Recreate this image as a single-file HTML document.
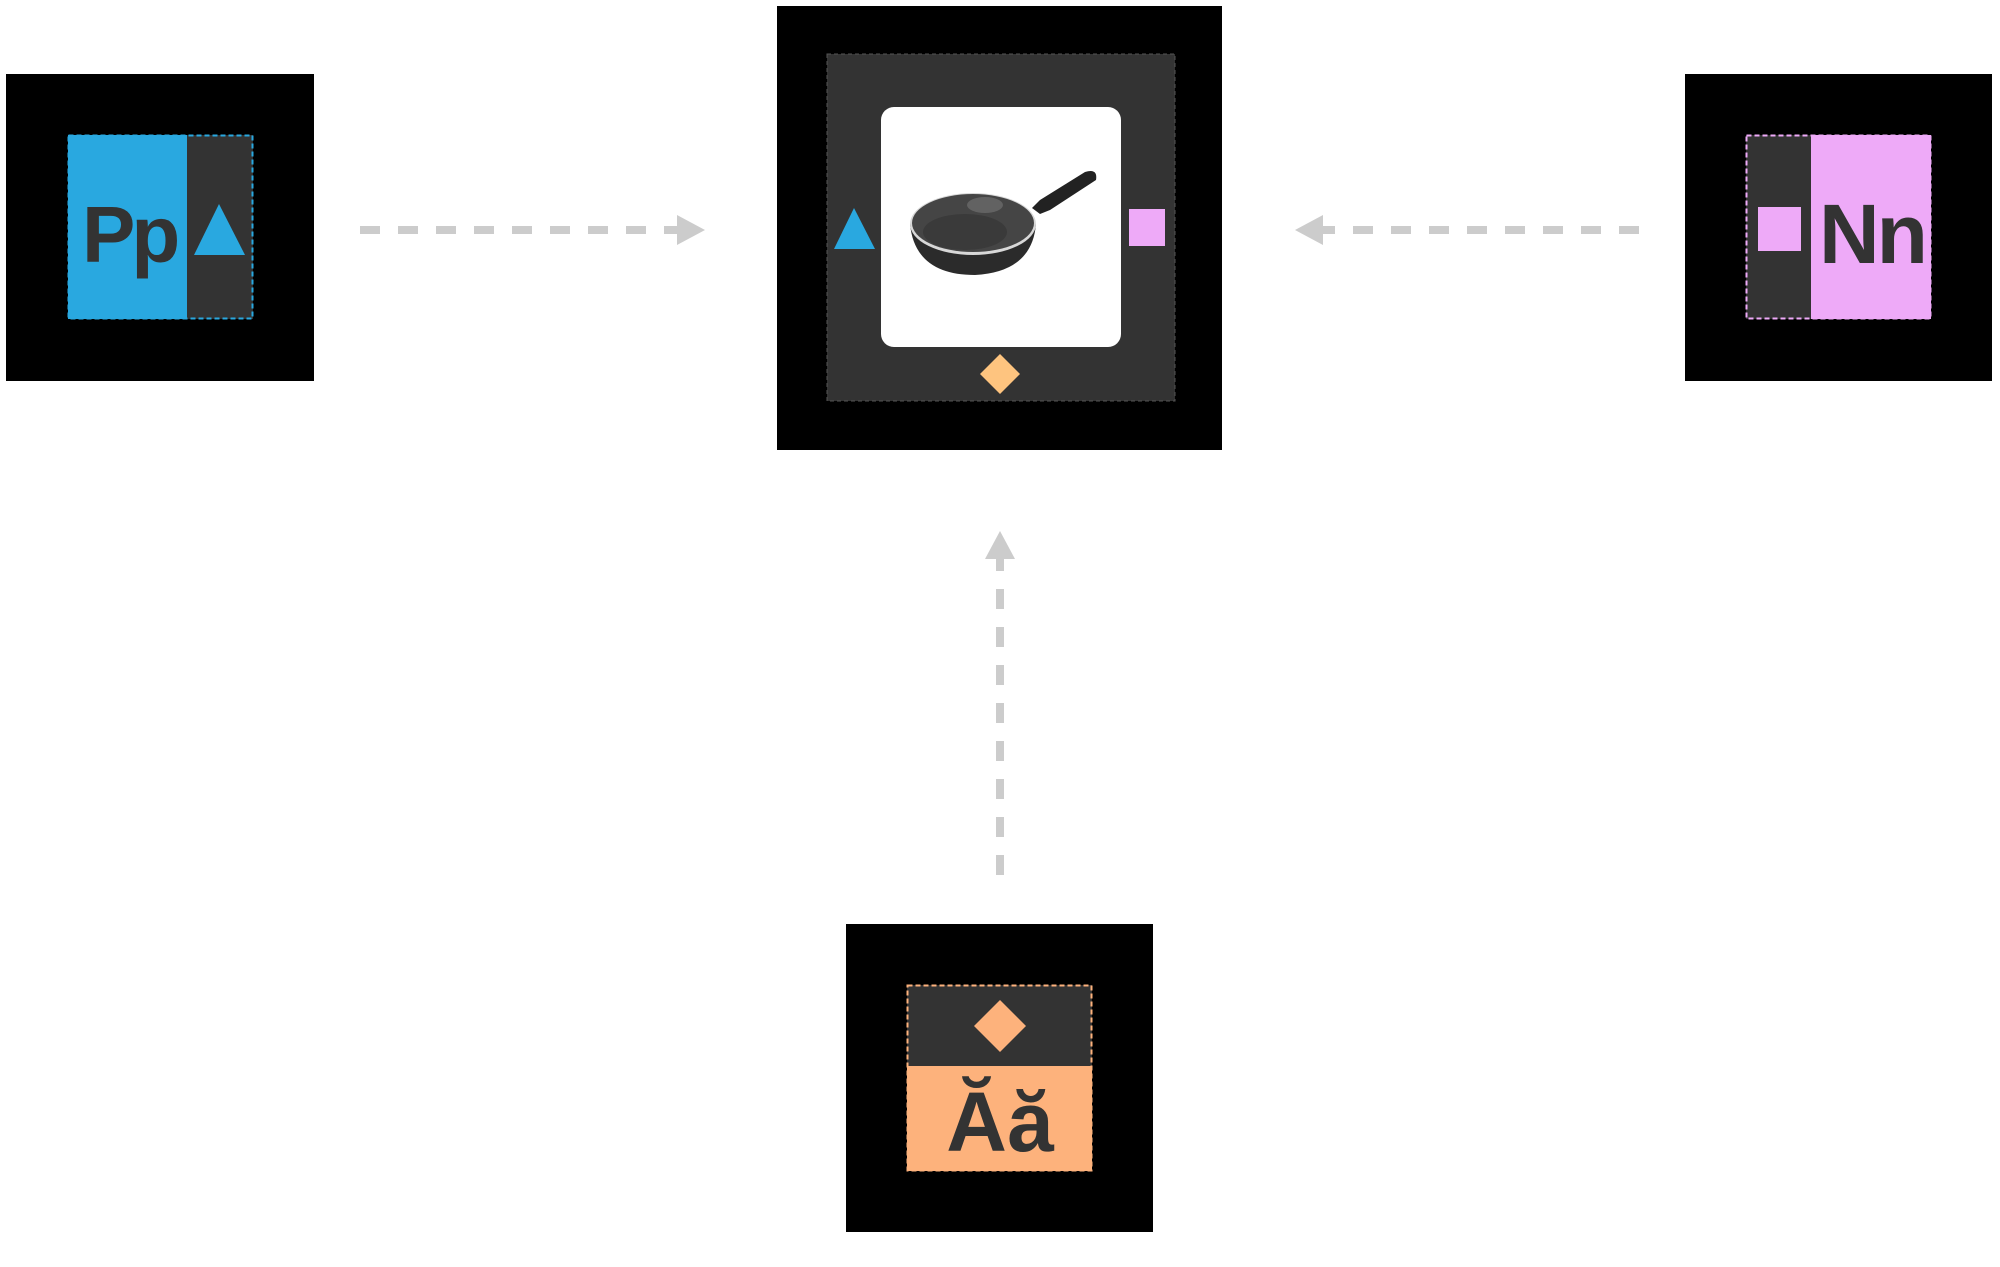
<!DOCTYPE html>
<html><head><style>html,body{margin:0;padding:0;background:#fff;}svg{display:block;}</style></head>
<body>
<svg width="2000" height="1267" viewBox="0 0 2000 1267" xmlns="http://www.w3.org/2000/svg">
<rect width="2000" height="1267" fill="#fff"/>
<g stroke="#cccccc" stroke-width="8" stroke-dasharray="20 18" fill="none">
<line x1="360" y1="230" x2="678" y2="230"/>
<line x1="1639" y1="230" x2="1323" y2="230"/>
<line x1="1000" y1="875" x2="1000" y2="559"/>
</g>
<g fill="#cccccc">
<polygon points="677,215 705,230 677,245"/>
<polygon points="1323,215 1295,230 1323,245"/>
<polygon points="985,559 1000,531 1015,559"/>
</g>
<rect x="6" y="74" width="308" height="307" fill="#000"/>
<rect x="68" y="135" width="119" height="184" fill="#29a8e0"/>
<rect x="187" y="135" width="66" height="184" fill="#333"/>
<rect x="68.5" y="135.5" width="184" height="183" fill="none" stroke="#29a8e0" stroke-width="2" stroke-dasharray="5 3"/>
<text x="82" y="262" font-family="Liberation Sans, sans-serif" font-weight="bold" font-size="80" fill="#333" letter-spacing="-4">Pp</text>
<polygon points="219,204 245,255 194,255" fill="#29a8e0"/>
<rect x="777" y="6" width="445" height="444" fill="#000"/>
<rect x="827" y="54" width="348" height="347" fill="#333" stroke="#555" stroke-width="1" stroke-dasharray="4 3"/>
<rect x="881" y="107" width="240" height="240" rx="13" fill="#fff"/>
<polygon points="854,208 875,249 834,249" fill="#29a8e0"/>
<rect x="1129" y="209" width="36" height="37" fill="#eeaaf8"/>
<polygon points="1000,354 1020,374 1000,394 980,374" fill="#fec47f"/>
<path d="M1032,208 L1040,200 L1085,172 Q1098,168 1096,180 L1050,210 L1040,214 Z" fill="#222"/>
<path d="M910,224 Q915,275 975,275 Q1032,272 1036,224 Z" fill="#2b2b2b"/>
<ellipse cx="973" cy="224" rx="63" ry="31" fill="#d8d8d8"/>
<ellipse cx="973" cy="223" rx="61" ry="29" fill="#454545"/>
<ellipse cx="965" cy="232" rx="42" ry="18" fill="#3a3a3a"/>
<ellipse cx="985" cy="205" rx="18" ry="8" fill="#777" opacity="0.6"/>
<rect x="1685" y="74" width="307" height="307" fill="#000"/>
<rect x="1746" y="135" width="65" height="184" fill="#333"/>
<rect x="1811" y="135" width="120" height="184" fill="#eeaaf8"/>
<rect x="1746.5" y="135.5" width="184" height="183" fill="none" stroke="#eeaaf8" stroke-width="2" stroke-dasharray="5 3"/>
<rect x="1758" y="207" width="43" height="44" fill="#eeaaf8"/>
<text x="1819" y="263" font-family="Liberation Sans, sans-serif" font-weight="bold" font-size="84" fill="#333" letter-spacing="-3">Nn</text>
<rect x="846" y="924" width="307" height="308" fill="#000"/>
<rect x="907" y="985" width="185" height="81" fill="#333"/>
<rect x="907" y="1066" width="185" height="105" fill="#fdb27c"/>
<rect x="907.5" y="985.5" width="184" height="185" fill="none" stroke="#fdb27c" stroke-width="2" stroke-dasharray="5 3"/>
<polygon points="1000,1000 1026,1026 1000,1052 974,1026" fill="#fdb27c"/>
<text x="1000" y="1151" text-anchor="middle" font-family="Liberation Sans, sans-serif" font-weight="bold" font-size="84" fill="#333">Ăă</text>
</svg>
</body></html>
